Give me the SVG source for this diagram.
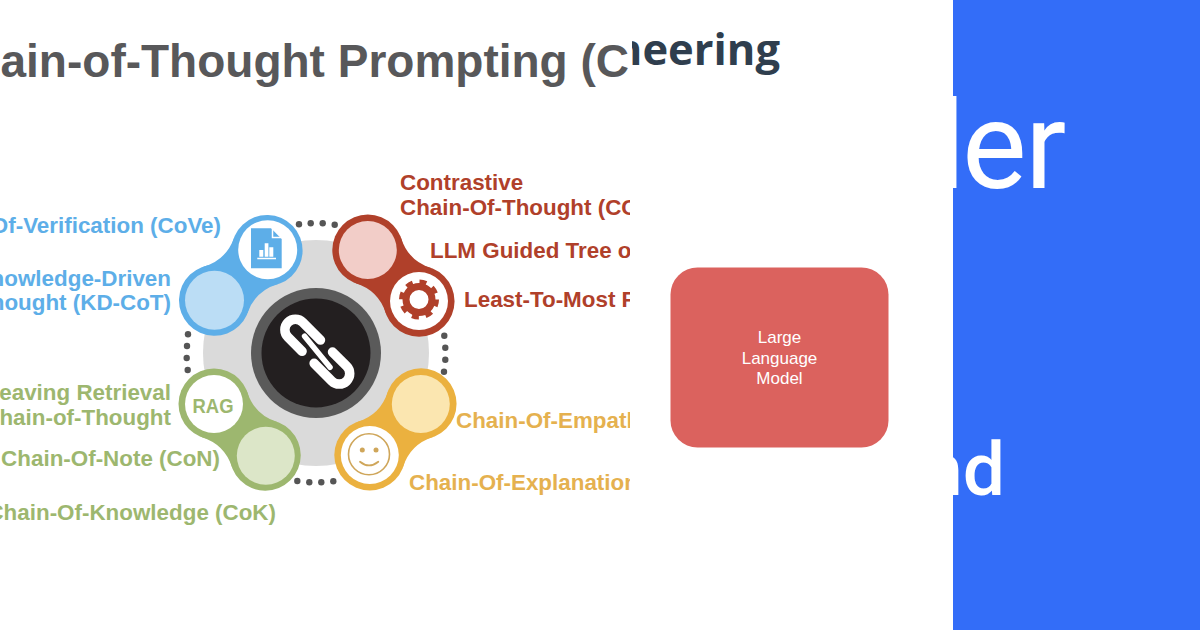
<svg xmlns="http://www.w3.org/2000/svg" xmlns:xlink="http://www.w3.org/1999/xlink" width="1200" height="630" viewBox="0 0 1200 630">
<style>
.lb{font-family:"Liberation Sans",Arial,sans-serif;font-weight:700;font-size:22.400px}
.blue{fill:#5DAEE8}.red{fill:#B0402A}.green{fill:#9DB76F}.yellow{fill:#EBB13F}
.ytx{fill:#E5B14F}
.dot{fill:#555}
.big{font-family:Roboto,sans-serif;fill:#fff}
.llm{font-family:"Liberation Sans",Arial,sans-serif;font-size:17px;fill:#fff;text-anchor:middle}
.chain{fill:none;stroke:#fff;stroke-linecap:round}
</style>
<defs>
<clipPath id="left"><rect x="0" y="0" width="630" height="630"/></clipPath>
<clipPath id="mid"><rect x="632" y="0" width="321" height="630"/></clipPath>
<clipPath id="right"><rect x="953" y="0" width="247" height="630"/></clipPath>
<g id="bone">
<circle cx="0" cy="0" r="35.500"/><circle cx="72.500" cy="0" r="35.500"/>
<path d="M15 -32Q36.250 -21 57.500 -32L57.500 32Q36.250 21 15 32Z"/>
</g>
</defs>
<rect width="1200" height="630" fill="#fff"/>
<rect id="panel" x="953" y="0" width="247" height="630" fill="#336DF8"/>
<g clip-path="url(#right)">
<text id="big-top" class="big" y="188" font-size="122" font-weight="400" x="936 962 1025">ler</text>
<text id="big-bottom" class="big" x="1005" y="495" font-size="75" font-weight="500" text-anchor="end">nd</text>
</g>
<text id="title-right" clip-path="url(#mid)" x="780" y="65" font-family="'Open Sans',sans-serif" font-weight="700" font-size="43.500" fill="#2F3E4E" text-anchor="end">neering</text>
<g id="large-language-model">
<rect x="670.500" y="267.500" width="218" height="180" rx="27" fill="#DB625E"/>
<text class="llm" x="779.500" y="343">Large</text>
<text class="llm" x="779.500" y="364">Language</text>
<text class="llm" x="779.500" y="384">Model</text>
</g>
<g clip-path="url(#left)">
<text id="title" x="0.500" y="77" font-family="'Liberation Sans',Arial,sans-serif" font-weight="700" font-size="46" fill="#58585A">ain-of-Thought Prompting (C</text>
<circle cx="316" cy="353" r="113" fill="#DADADA"/>
<g id="connectors" class="dot">
<circle cx="299" cy="224.300" r="3.200"/><circle cx="310.700" cy="223.300" r="3.200"/><circle cx="322.700" cy="223.300" r="3.200"/><circle cx="334.700" cy="224.700" r="3.200"/>
<circle cx="188" cy="334.300" r="3.200"/><circle cx="187" cy="346" r="3.200"/><circle cx="186.700" cy="358" r="3.200"/><circle cx="187.700" cy="370" r="3.200"/>
<circle cx="444.300" cy="335.700" r="3.200"/><circle cx="445.300" cy="347.700" r="3.200"/><circle cx="445.300" cy="359.700" r="3.200"/><circle cx="444" cy="371.700" r="3.200"/>
<circle cx="297.300" cy="481" r="3.200"/><circle cx="309.300" cy="482.300" r="3.200"/><circle cx="321.300" cy="482.300" r="3.200"/><circle cx="333.300" cy="481.300" r="3.200"/>
</g>
<g id="hub">
<circle cx="316" cy="353" r="65" fill="#5A5A5A"/>
<circle cx="316" cy="353" r="54.500" fill="#231F20"/>
<g transform="translate(317.300 351.700) rotate(45)">
<path class="chain" stroke-width="9.500" d="M-6 -10.500H-31A10.500 10.500 0 0 0 -31 10.500H-11"/>
<path class="chain" stroke-width="9.500" d="M6 10.500H31A10.500 10.500 0 0 0 31 -10.500H11"/>
<path class="chain" stroke-width="5.500" d="M-20 -2L20 2"/>
</g>
</g>
<g id="blue-cluster">
<use xlink:href="#bone" href="#bone" class="blue" transform="translate(214.500 300.300) rotate(-43.500)"/>
<circle cx="214.500" cy="300.300" r="29.500" fill="#BBDDF5"/>
<circle cx="267.700" cy="249.700" r="29.500" fill="#fff"/>
<path class="blue" d="M251 228.300H271L281.700 239V268.300H251Z"/>
<path d="M272.500 228.300V237.500H281.700" fill="none" stroke="#fff" stroke-width="1.500"/>
<path d="M259.300 250h4v6.700h-4zM264.700 243.300h3.700v13.400h-3.700zM269.300 247.300h4v9.400h-4zM257.300 257.700H276v1.600H257.300z" fill="#fff"/>
<text class="lb blue" x="221" y="233" text-anchor="end">Of-Verification (CoVe)</text>
<text class="lb blue" x="171" y="286" text-anchor="end">nowledge-Driven</text>
<text class="lb blue" x="171" y="310" text-anchor="end">hought (KD-CoT)</text>
</g>
<g id="red-cluster">
<use xlink:href="#bone" href="#bone" class="red" transform="translate(367.800 250) rotate(45)"/>
<circle cx="367.800" cy="250" r="29" fill="#F2CDC8"/>
<circle cx="419" cy="301" r="29" fill="#fff"/>
<circle cx="419" cy="299.500" r="13" fill="none" stroke="#B0402A" stroke-width="7"/>
<circle cx="419" cy="299.500" r="17.500" fill="none" stroke="#B0402A" stroke-width="5" stroke-dasharray="6.900 6.840"/>
<text class="lb red" x="400" y="190">Contrastive</text>
<text class="lb red" x="400" y="215">Chain-Of-Thought (CC</text>
<text class="lb red" x="430" y="258">LLM Guided Tree o</text>
<text class="lb red" x="464" y="307">Least-To-Most F</text>
</g>
<g id="green-cluster">
<use xlink:href="#bone" href="#bone" class="green" transform="translate(214 404) rotate(45)"/>
<circle cx="214" cy="404" r="29" fill="#fff"/>
<circle cx="265.800" cy="455.800" r="29" fill="#DCE6C8"/>
<text class="green" x="213" y="413" font-family="'Liberation Sans',Arial,sans-serif" font-weight="700" font-size="21" text-anchor="middle" textLength="41" lengthAdjust="spacingAndGlyphs">RAG</text>
<text class="lb green" x="171" y="400" text-anchor="end">eaving Retrieval</text>
<text class="lb green" x="171" y="425" text-anchor="end">hain-of-Thought</text>
<text class="lb green" x="220" y="466" text-anchor="end">Chain-Of-Note (CoN)</text>
<text class="lb green" x="276" y="520" text-anchor="end">Chain-Of-Knowledge (CoK)</text>
</g>
<g id="yellow-cluster">
<use xlink:href="#bone" href="#bone" class="yellow" transform="translate(369.800 455) rotate(-45)"/>
<circle cx="420.800" cy="404" r="29" fill="#FBE6B0"/>
<circle cx="369.800" cy="455" r="29" fill="#fff"/>
<circle cx="369" cy="454.300" r="20.500" fill="none" stroke="#CFA65A" stroke-width="1.600"/>
<circle cx="362.300" cy="450" r="2.500" fill="#CFA65A"/><circle cx="376" cy="450" r="2.500" fill="#CFA65A"/>
<path d="M360 461.700Q369 469 378.300 461.700" fill="none" stroke="#CFA65A" stroke-width="1.800" stroke-linecap="round"/>
<text class="lb ytx" x="456" y="428">Chain-Of-Empath</text>
<text class="lb ytx" x="409" y="490">Chain-Of-Explanation</text>
</g>
</g>
</svg>
